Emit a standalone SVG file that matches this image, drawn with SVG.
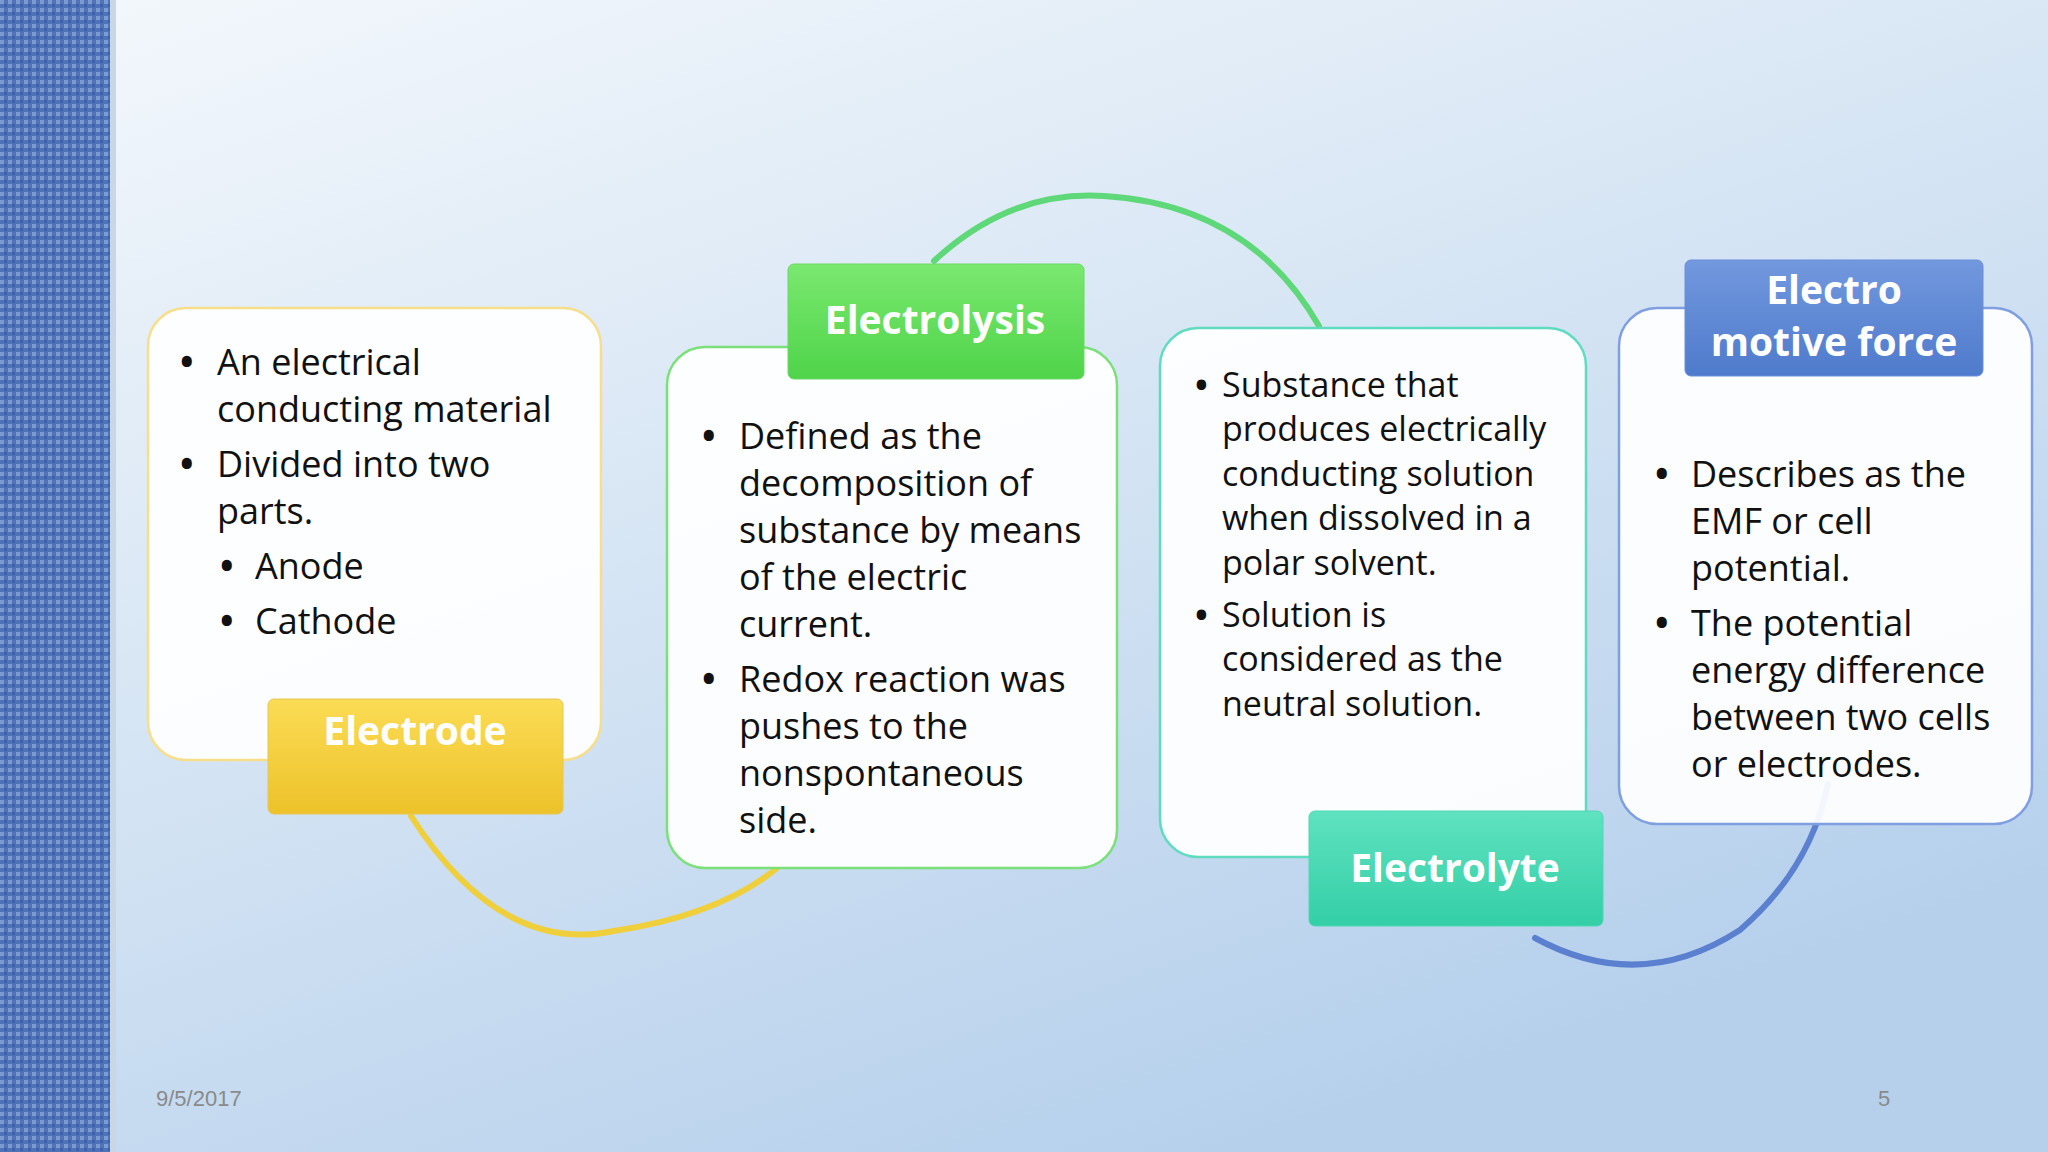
<svg xmlns="http://www.w3.org/2000/svg" width="2048" height="1152" viewBox="0 0 2048 1152">
<defs>
<linearGradient id="bg" x1="0" y1="0" x2="0.6" y2="1"><stop offset="0" stop-color="#f4f8fc"/><stop offset="0.5" stop-color="#d6e5f4"/><stop offset="1" stop-color="#b6d0ec"/></linearGradient>
<pattern id="tex" width="8" height="8" patternUnits="userSpaceOnUse"><rect width="8" height="8" fill="#4f73b8"/><rect width="4" height="4" fill="#7d9bd2"/><rect x="4" y="4" width="3" height="3" fill="#3d5fa3"/></pattern>
<linearGradient id="gy" x1="0" y1="0" x2="0" y2="1"><stop offset="0" stop-color="#fbdc55"/><stop offset="1" stop-color="#edc22a"/></linearGradient>
<linearGradient id="gg" x1="0" y1="0" x2="0" y2="1"><stop offset="0" stop-color="#7ae86f"/><stop offset="1" stop-color="#4fd44a"/></linearGradient>
<linearGradient id="gt" x1="0" y1="0" x2="0" y2="1"><stop offset="0" stop-color="#5fe2c0"/><stop offset="1" stop-color="#33cfa6"/></linearGradient>
<linearGradient id="gb" x1="0" y1="0" x2="0" y2="1"><stop offset="0" stop-color="#7298de"/><stop offset="1" stop-color="#4f7bcc"/></linearGradient>
</defs>
<style>
.box{fill:#ffffff;fill-opacity:0.93;stroke-width:2.5}
.t{font-family:"Open Sans","Liberation Sans",sans-serif;font-size:36px;fill:#111}
.t3{font-family:"Open Sans","Liberation Sans",sans-serif;font-size:34px;fill:#111}
.b{font-weight:bold}
.lab{font-family:"Open Sans","Liberation Sans",sans-serif;font-size:39px;font-weight:bold;fill:#fff;text-anchor:middle}
.arc{fill:none;stroke-width:6;stroke-linecap:round}
.ft{font-family:"Liberation Sans",sans-serif;font-size:22px;fill:#8a8a8a}
</style>
<rect width="2048" height="1152" fill="url(#bg)"/>
<rect x="0" y="0" width="112" height="1152" fill="url(#tex)"/>
<rect x="110" y="0" width="6" height="1152" fill="#c9d6e6"/>
<g id="connectors">
<path class="arc" stroke="#f0cf3c" d="M411 816 Q500 955 614 931 Q720 915 777 868"/>
<path class="arc" stroke="#5fd87a" d="M934 261 Q1010 190 1104 196 Q1250 205 1319 326"/>
<path class="arc" stroke="#5b80cf" d="M1535 938 Q1640 995 1740 930 Q1810 870 1828 784"/>
</g>
<g id="electrode">
<rect class="box" x="148" y="308" width="453" height="452" rx="38" stroke="#f6de8a"/>
<text class="t"><tspan class="b" x="180" y="375">•</tspan><tspan x="217" y="375">An electrical</tspan><tspan x="217" y="422">conducting material</tspan><tspan class="b" x="180" y="477">•</tspan><tspan x="217" y="477">Divided into two</tspan><tspan x="217" y="524">parts.</tspan><tspan class="b" x="220" y="579">•</tspan><tspan x="255" y="579">Anode</tspan><tspan class="b" x="220" y="634">•</tspan><tspan x="255" y="634">Cathode</tspan></text>
<rect x="268" y="699" width="295" height="115" rx="6" fill="url(#gy)" stroke="#e8c650"/>
<text class="lab" x="415" y="745">Electrode</text>
</g>
<g id="electrolysis">
<rect class="box" x="667" y="347" width="450" height="521" rx="38" stroke="#7be07a"/>
<text class="t"><tspan class="b" x="702" y="449">•</tspan><tspan x="739" y="449">Defined as the</tspan><tspan x="739" y="496">decomposition of</tspan><tspan x="739" y="543">substance by means</tspan><tspan x="739" y="590">of the electric</tspan><tspan x="739" y="637">current.</tspan><tspan class="b" x="702" y="692">•</tspan><tspan x="739" y="692">Redox reaction was</tspan><tspan x="739" y="739">pushes to the</tspan><tspan x="739" y="786">nonspontaneous</tspan><tspan x="739" y="833">side.</tspan></text>
<rect x="788" y="264" width="296" height="115" rx="6" fill="url(#gg)" stroke="#6bd864"/>
<text class="lab" x="935" y="334">Electrolysis</text>
</g>
<g id="electrolyte">
<rect class="box" x="1160" y="328" width="426" height="529" rx="38" stroke="#5fdcc0"/>
<text class="t3"><tspan class="b" x="1195" y="397">•</tspan><tspan x="1222" y="397">Substance that</tspan><tspan x="1222" y="441">produces electrically</tspan><tspan x="1222" y="486">conducting solution</tspan><tspan x="1222" y="530">when dissolved in a</tspan><tspan x="1222" y="575">polar solvent.</tspan><tspan class="b" x="1195" y="627">•</tspan><tspan x="1222" y="627">Solution is</tspan><tspan x="1222" y="671">considered as the</tspan><tspan x="1222" y="716">neutral solution.</tspan></text>
<rect x="1309" y="811" width="294" height="115" rx="6" fill="url(#gt)" stroke="#4fd8b4"/>
<text class="lab" x="1455" y="882">Electrolyte</text>
</g>
<g id="emf">
<rect class="box" x="1619" y="308" width="413" height="516" rx="38" stroke="#7f9fe0"/>
<text class="t"><tspan class="b" x="1655" y="487">•</tspan><tspan x="1691" y="487">Describes as the</tspan><tspan x="1691" y="534">EMF or cell</tspan><tspan x="1691" y="581">potential.</tspan><tspan class="b" x="1655" y="636">•</tspan><tspan x="1691" y="636">The potential</tspan><tspan x="1691" y="683">energy difference</tspan><tspan x="1691" y="730">between two cells</tspan><tspan x="1691" y="777">or electrodes.</tspan></text>
<rect x="1685" y="260" width="298" height="116" rx="6" fill="url(#gb)" stroke="#6a8fd8"/>
<text class="lab" x="1834" y="304">Electro</text>
<text class="lab" x="1834" y="356">motive force</text>
</g>
<text class="ft" x="156" y="1106">9/5/2017</text>
<text class="ft" x="1878" y="1106">5</text>
</svg>
